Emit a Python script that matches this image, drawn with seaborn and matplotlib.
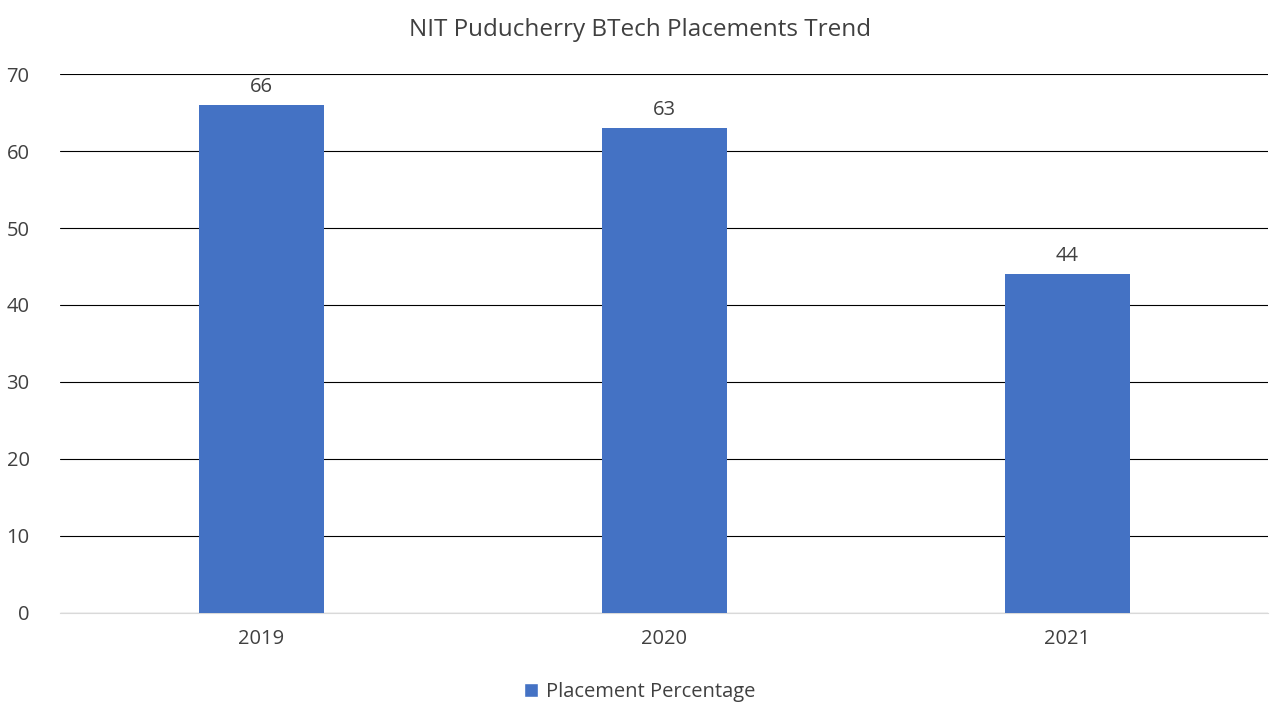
import matplotlib
matplotlib.use("Agg")
import matplotlib.pyplot as plt
import matplotlib.patches as mpatches
import seaborn as sns
import pandas as pd

years = ['2019', '2020', '2021']
placement_pct = [66, 63, 44]
series_name = 'Placement Percentage'

df = pd.DataFrame({'year': years, 'pct': placement_pct})

sns.set_style('white')
plt.rcParams['font.family'] = ['Open Sans', 'DejaVu Sans']

fig = plt.figure(figsize=(12.8, 7.2), dpi=100)
ax = fig.add_axes([0.047, 0.149, 0.944, 0.748])
sns.barplot(data=df, x='year', y='pct', color='#4472C4', width=0.31, saturation=1,
            linewidth=0, ax=ax, zorder=3)

ax.set_ylim(0, 70)
ax.set_yticks(range(0, 71, 10))
ax.grid(axis='y', color='#000000', linewidth=0.8, zorder=0)
for s in ['top', 'right', 'left']:
    ax.spines[s].set_visible(False)
ax.spines['bottom'].set_color('#D9D9D9')
ax.tick_params(axis='both', length=0, labelsize=14.5, colors='#404040')
ax.tick_params(axis='x', pad=12)
ax.tick_params(axis='y', pad=22)
ax.set_xlabel('')
ax.set_ylabel('')

for c in ax.containers:
    ax.bar_label(c, fmt='%d', padding=6, fontsize=14.5, color='#404040')

fig.suptitle('NIT Puducherry BTech Placements Trend', y=0.975, fontsize=17.5, color='#404040')
handle = mpatches.Patch(facecolor='#4472C4', label=series_name)
fig.legend(handles=[handle], loc='lower center', bbox_to_anchor=(0.5, 0.0), frameon=False,
           fontsize=14.5, labelcolor='#404040', handlelength=0.7, handleheight=0.7, handletextpad=0.4)

fig.savefig('out.png', dpi=100)
